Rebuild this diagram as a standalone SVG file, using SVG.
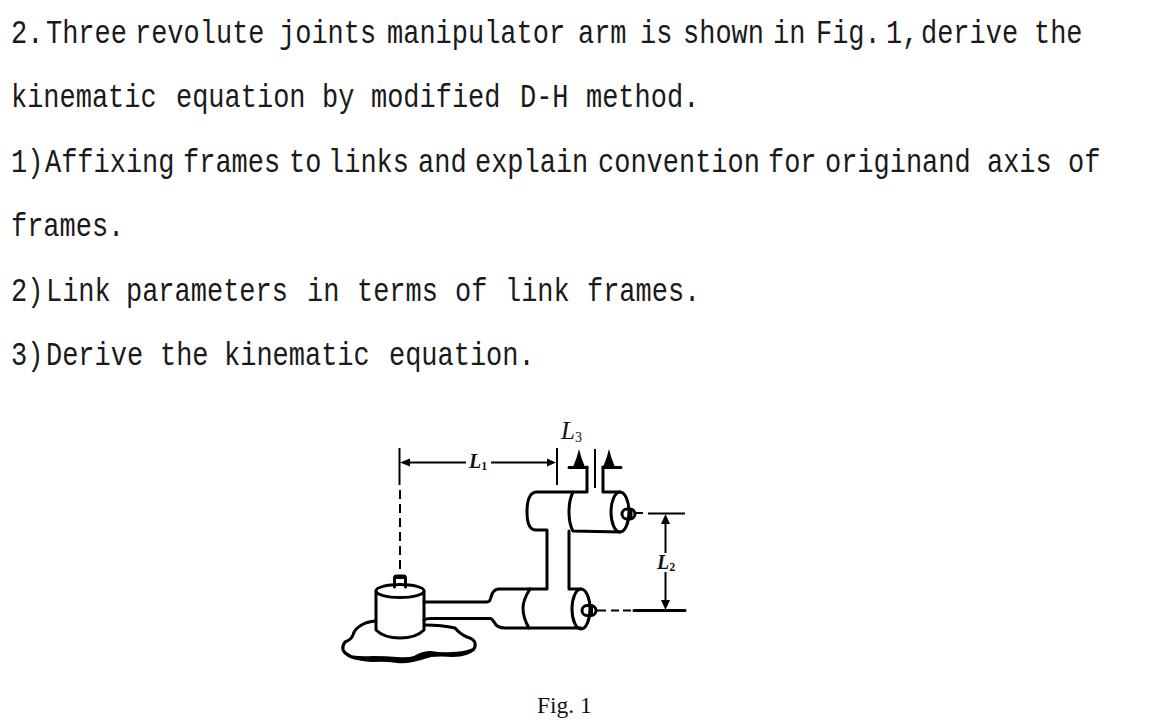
<svg xmlns="http://www.w3.org/2000/svg" width="1170" height="726" viewBox="0 0 1170 726">
<style>
.t{font-family:"Liberation Mono",monospace;font-size:33px;fill:#1a1a1a}
.s{fill:none;stroke:#000;stroke-width:3;stroke-linejoin:round;stroke-linecap:round}
.d{fill:none;stroke:#000;stroke-width:2}
.f{fill:#000;stroke:none}
.l{font-family:"Liberation Serif",serif;font-style:italic;fill:#111}
</style>
<rect width="1170" height="726" fill="#fff"/>
<g id="question-text" transform="scale(.8182 1)">
<text class="t" y="43"><tspan x="13.400">2.</tspan><tspan x="56.200">Three</tspan><tspan x="165">revolute</tspan><tspan x="341">joints</tspan><tspan x="473">manipulator</tspan><tspan x="706.400">arm</tspan><tspan x="782.200">is</tspan><tspan x="834.800">shown</tspan><tspan x="944.800">in</tspan><tspan x="997.300">Fig.</tspan><tspan x="1082.900">1,</tspan><tspan x="1125.600">derive</tspan><tspan x="1263.700">the</tspan></text>
<text class="t" y="107"><tspan x="13.400">kinematic</tspan><tspan x="215.100">equation</tspan><tspan x="393.500">by</tspan><tspan x="453.400">modified</tspan><tspan x="635.500">D-H</tspan><tspan x="716.200">method.</tspan></text>
<text class="t" y="172"><tspan x="13.400">1)</tspan><tspan x="55">Affixing</tspan><tspan x="223.700">frames</tspan><tspan x="353.200">to</tspan><tspan x="400.900">links</tspan><tspan x="510.900">and</tspan><tspan x="580.500">explain</tspan><tspan x="730.900">convention</tspan><tspan x="938.600">for</tspan><tspan x="1008.300">originand</tspan><tspan x="1206.300">axis</tspan><tspan x="1305.300">of</tspan></text>
<text class="t" y="236" x="13.400">frames.</text>
<text class="t" y="301"><tspan x="13.400">2)</tspan><tspan x="56.200">Link</tspan><tspan x="154">parameters</tspan><tspan x="375.200">in</tspan><tspan x="436.300">terms</tspan><tspan x="556.100">of</tspan><tspan x="617.200">link</tspan><tspan x="717.400">frames.</tspan></text>
<text class="t" y="365"><tspan x="13.400">3)</tspan><tspan x="56.200">Derive</tspan><tspan x="195.500">the</tspan><tspan x="273.800">kinematic</tspan><tspan x="475.400">equation.</tspan></text>
</g>
<g id="base">
<path class="s" d="M394.500 587V578Q394.500 576 397 576H403Q405.500 576 405.500 578V587"/>
<rect class="f" x="394" y="575" width="12" height="4"/>
<ellipse class="s" cx="400" cy="591" rx="24" ry="6.500"/>
<path class="s" d="M376 591V630Q384 638 400 638Q416 638 424 630V591"/>
<path class="s" d="M375 621Q365 622 360 626Q354 630 353 635Q351 640 345 642Q342 646 343 650Q345 654 350 656"/>
<path class="s" d="M425 625Q442 625 455 628Q460 634 467 637Q474 639 475 643Q476 647 473 650"/>
<path fill="#000" d="M346 653Q352 657 373 656Q386 656 397 657Q408 658 414 656Q422 651 431 651Q442 653 451 652Q464 652 473 648L475 650Q468 657 453 657Q440 656 431 657Q422 660 413 662Q404 664 397 663Q384 661 373 662Q358 661 350 658Q346 656 346 653Z"/>
</g>
<g id="link-1">
<path class="s" d="M424 602H487Q490 602 491 597Q493 589 499 589H530"/>
<path class="s" d="M424 620Q426 618.500 430 618.500H490Q492 618.500 494 622Q497 628 505 628H581"/>
</g>
<g id="link-2">
<path class="s" d="M530 589H547V530H536Q527 530 527 512Q527 492 537 492H587V467"/>
<path class="s" d="M603 467V492H620"/>
<path class="s" d="M569 531V589H581"/>
<path class="s" d="M530 589Q523 600 523 608Q523 618 529 628"/>
<ellipse class="s" cx="581" cy="609" rx="9" ry="20"/>
<rect class="s" x="582" y="605.500" width="14" height="10" rx="5"/>
<path class="s" d="M591.500 606V615"/>
</g>
<g id="link-3">
<path class="s" d="M573 492Q569 500 569 512Q569 524 573 531L620 532"/>
<ellipse class="s" cx="620" cy="512" rx="9" ry="20"/>
<rect class="s" x="622" y="509" width="13" height="10" rx="5"/>
<path class="s" d="M631 509.500V518.500"/>
</g>
<g id="tool">
<path class="f" d="M579 449Q581 458 585 467H573Q577 458 579 449Z"/>
<path class="f" d="M609 449Q611 458 615 467H603Q607 458 609 449Z"/>
<path class="s" d="M569 467.500H587M603 467.500H621"/>
<path class="d" d="M595 449V488"/>
</g>
<g id="connectors">
<path class="d" d="M399.500 448V485"/>
<path class="d" stroke-width="2.400" stroke-dasharray="9 5" d="M400 490V574"/>
<path class="d" d="M404 462.500H466M491 462.500H552"/>
<path class="f" d="M400 462.500L410 458.500V466.500Z"/>
<path class="f" d="M556 462.500L547 458.500V466.500Z"/>
<path class="d" d="M557 448V485"/>
<path class="d" d="M635 513H643M648 513.500H685"/>
<path class="d" d="M665.500 520V553M665.500 572V603"/>
<path class="f" d="M665.500 514L661 524H670Z"/>
<path class="f" d="M665.500 610L661 600H670Z"/>
<path class="d" stroke-width="2.400" d="M597 610.500H606M611 610.500H619M623 610.500H631"/>
<path class="s" stroke-width="2.400" d="M634 610.500H685"/>
</g>
<g id="labels">
<text class="l" x="469" y="468" font-size="20" font-weight="bold">L<tspan font-size="12" dy="2" font-style="normal">1</tspan></text>
<text class="l" x="561" y="439" font-size="25">L<tspan font-size="14" dy="3" font-style="normal">3</tspan></text>
<text class="l" x="657" y="569" font-size="20" font-weight="bold">L<tspan font-size="12" dy="2" font-style="normal">2</tspan></text>
<text x="537" y="713" font-family="Liberation Serif, serif" font-size="23.500" fill="#111">Fig. 1</text>
</g>
</svg>
